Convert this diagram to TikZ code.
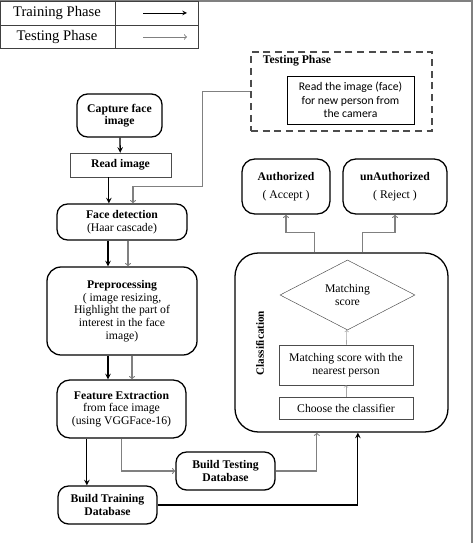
\documentclass[tikz,border=0pt]{standalone}
\usepackage{fontspec}
\setmainfont{Liberation Serif}
\newfontfamily\calibri{Carlito}
\usetikzlibrary{shapes.geometric}

\begin{document}
\begin{tikzpicture}[
			x=0.03cm, y=-0.03cm,
			font=\fontsize{10}{10.8}\selectfont,
			rbox/.style = {draw, line width=1.1pt, rounded corners=9pt, align=center, inner sep=1pt},
			sbox/.style = {draw, align=center, inner sep=1pt},
			train/.style = {->, >=stealth, line width=1.1pt},
			test/.style = {->, draw=gray, line width=0.9pt},
			thin test/.style = {->, draw=gray!70, line width=0.5pt}
		]
		\useasboundingbox (0,0) rectangle (474,543);
		\draw[gray, line width=1.5pt] (0,1) -- (472,1) -- (472,543);
		\draw[black!75, line width=0.8pt] (0,1) rectangle (198,48);
		\draw[black!75, line width=0.8pt] (0,25) -- (198,25);
		\draw[black!75, line width=0.8pt] (115,1) -- (115,48);
		\node[font=\fontsize{12.5}{14}\selectfont] (l1) at (57,13) {Training Phase};
		\node[font=\fontsize{12.5}{14}\selectfont] (l2) at (57,37) {Testing Phase};
		\coordinate (a1) at (143,13);
		\coordinate (b1) at (187,13);
		\coordinate (a2) at (143,37);
		\coordinate (b2) at (187,37);
		\draw[train, line width=0.8pt] (a1) -- (b1);
		\draw[test, line width=0.8pt] (a2) -- (b2);
		\node[rbox, minimum width=2.55cm, minimum height=1.29cm] (1) at (119.5,115.5) {\textbf{Capture face}\\\textbf{image}};
		\node[sbox, draw=black!70, minimum width=3.03cm, minimum height=0.72cm] (2) at (120.5,165) {\textbf{Read image}};
		\node[rbox, minimum width=3.9cm, minimum height=1.08cm] (3) at (122,222) {\textbf{Face detection}\\(Haar cascade)};
		\node[rbox, rounded corners=12pt, minimum width=4.5cm, minimum height=2.64cm] (4) at (122,311) {\textbf{Preprocessing}\\( image resizing,\\Highlight the part of\\interest in the face\\image)};
		\node[rbox, rounded corners=11pt, minimum width=3.87cm, minimum height=1.74cm] (5) at (121.5,409) {\textbf{Feature Extraction}\\from face image\\(using VGGFace-16)};
		\node[rbox, minimum width=2.97cm, minimum height=1.14cm] (6) at (107.5,505) {\textbf{Build Training}\\\textbf{Database}};
		\node[rbox, minimum width=2.97cm, minimum height=1.14cm] (7) at (225.5,471) {\textbf{Build Testing}\\\textbf{Database}};
		\node[draw=black!70, dash pattern=on 6pt off 4pt, line width=1.3pt, minimum width=5.43cm, minimum height=2.37cm] (8) at (341.5,91.5) {};
		\node[font=\bfseries\fontsize{10}{11}\selectfont] (8a) at (297,61) {Testing Phase};
		\node[sbox, line width=0.7pt, font=\calibri\fontsize{10}{11.5}\selectfont, minimum width=3.81cm, minimum height=1.44cm] (9) at (350.5,100) {Read the image (face)\\for new person from\\the camera};
		\node[rbox, rounded corners=11pt, minimum width=2.64cm, minimum height=1.65cm] (10) at (286,186.5) {\textbf{Authorized}\\[5pt]( Accept )};
		\node[rbox, rounded corners=11pt, minimum width=3.12cm, minimum height=1.65cm] (11) at (395,186.5) {\textbf{unAuthorized}\\[5pt]( Reject )};
		\node[rbox, rounded corners=20pt, minimum width=6.39cm, minimum height=5.37cm] (12) at (341.5,342.5) {};
		\node[font=\bfseries\fontsize{9.5}{11}\selectfont, rotate=90] (12a) at (260,343) {Classification};
		\node[draw=black!70, diamond, align=center, inner sep=0pt, minimum width=4.05cm, minimum height=2.1cm] (13) at (347.5,295) {Matching\\score};
		\node[sbox, draw=black!70, minimum width=4.02cm, minimum height=1.2cm] (14) at (346,365) {Matching score with the\\nearest person};
		\node[sbox, draw=black!70, minimum width=4.02cm, minimum height=0.66cm] (15) at (346,408) {Choose the classifier};
		\draw[train] (1) -- (2);
		\draw[train] ([xshift=-3.5mm]2.south) -- ([xshift=-3.5mm]2.south |- 3.north);
		\draw[test] (8.west) -- ++(-48,0) -- ++(0,95) -| ([xshift=3.3mm]3.north);
		\draw[train] ([xshift=-4.2mm]3.south) -- ([xshift=-4.2mm]3.south |- 4.north);
		\draw[test] ([xshift=1.8mm]3.south) -- ([xshift=1.8mm]3.south |- 4.north);
		\draw[train] ([xshift=-4.2mm]4.south) -- ([xshift=-4.2mm]4.south |- 5.north);
		\draw[test] ([xshift=3mm]4.south) -- ([xshift=3mm]4.south |- 5.north);
		\draw[train] ([xshift=-10.4mm]5.south) -- ([xshift=-10.4mm]5.south |- 6.north);
		\draw[test] (5.south) |- (7);
		\draw[test] (7) -| ([xshift=-7.4mm]12.south);
		\draw[train] (6) -| ([xshift=4.9mm]12.south);
		\draw[test] ([xshift=-8.1mm]12.north) -- ++(0,-20) -| (10.south);
		\draw[test] ([xshift=6.3mm]12.north) -- ++(0,-20) -| (11.south);
		\draw[thin test] (15) -- (14);
		\draw[thin test] (14) -- (13);
	\end{tikzpicture}
\end{document}
